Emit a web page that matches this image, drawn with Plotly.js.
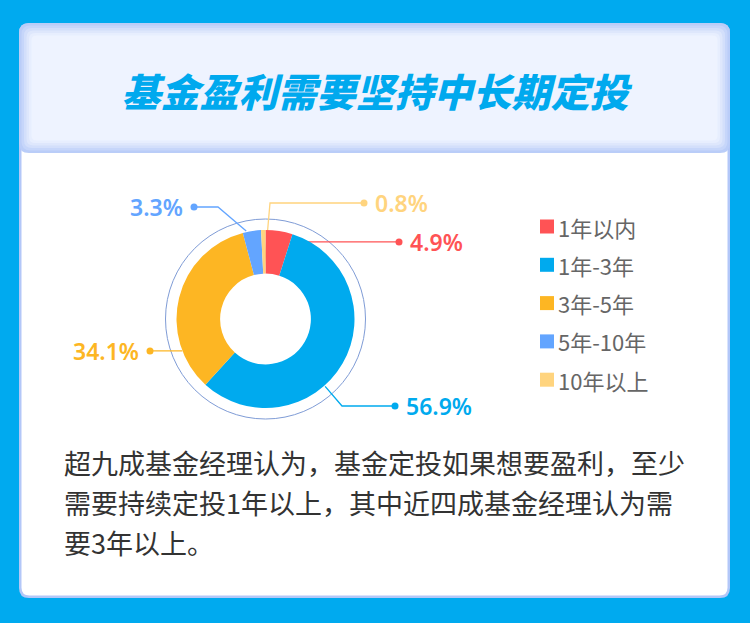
<!DOCTYPE html>
<html>
<head>
<meta charset="utf-8">
<script src="https://cdn.plot.ly/plotly-3.0.1.min.js"></script>
<style>html,body{margin:0;padding:0;background:#00AAEF;}#chart{width:750px;height:623px;}</style>
</head>
<body>
<div id="chart"></div>
<script>
// ---- data ----
const titleText = '基金盈利需要坚持中长期定投';
const categories = ['1年以内', '1年-3年', '3年-5年', '5年-10年', '10年以上'];
const values = [4.9, 56.9, 34.1, 3.3, 0.8];
const colors = ['#FF5355', '#00AAEE', '#FDB623', '#63A5FF', '#FFD47E'];
const paragraphLines = [
  '超九成基金经理认为，基金定投如果想要盈利，至少',
  '需要持续定投1年以上，其中近四成基金经理认为需',
  '要3年以上。'
];

// ---- layout geometry (pixels) ----
const W = 750, H = 623;
const CX = 265.5, CY = 319, R = 89, HOLE = 0.51, RING = 100;
// leader-line styling: where on the slice the line starts, elbow and dot positions
const leaders = [
  {frac: 0.885, r: 80, elbow: null, dotX: 399, side: 'right'},
  {frac: 0.59, r: 90, elbow: [342, 406], dotX: 395, side: 'right'},
  {frac: 0.216, r: 89, elbow: null, dotX: 150, side: 'left'},
  {frac: 0.2, r: 90, elbow: [218, 207], dotX: 194, side: 'left'},
  {frac: 0.5, r: 50, elbow: [270, 203], dotX: 364, side: 'right'}
];
// custom legend placement
const LEG_X = 547, LEG_Y0 = 226.5, LEG_DY = 38.3;

const total = values.reduce((a, b) => a + b, 0);
let cum = 0;
const spans = values.map(v => { const a0 = cum / total * 360; cum += v; return [a0, cum / total * 360]; });
function pt(theta, r) { const t = theta * Math.PI / 180; return [CX + r * Math.sin(t), CY - r * Math.cos(t)]; }

const traces = [];
traces.push({
  type: 'pie', labels: categories, values: values, sort: false, direction: 'clockwise', rotation: 0,
  hole: HOLE, textinfo: 'none', hoverinfo: 'none',
  marker: {colors: colors, line: {width: 0}},
  domain: {x: [(CX - R) / W, (CX + R) / W], y: [(H - CY - R) / H, (H - CY + R) / H]},
  showlegend: false
});

const dotX = [], dotY = [], annotations = [];
spans.forEach((s, i) => {
  const L = leaders[i];
  const a = s[0] + (s[1] - s[0]) * L.frac;
  const p = pt(a, L.r);
  const xs = [p[0]], ys = [p[1]];
  let y = p[1];
  if (L.elbow) { xs.push(L.elbow[0]); ys.push(L.elbow[1]); y = L.elbow[1]; }
  xs.push(L.dotX); ys.push(y);
  traces.push({type: 'scatter', mode: 'lines', x: xs, y: ys, line: {color: colors[i], width: 1.3},
    hoverinfo: 'skip', showlegend: false});
  dotX.push(L.dotX); dotY.push(y);
  annotations.push({
    x: L.side === 'right' ? L.dotX + 9 : L.dotX - 9, y: y, xref: 'x', yref: 'y',
    xanchor: L.side === 'right' ? 'left' : 'right', yanchor: 'middle', showarrow: false,
    text: values[i].toFixed(1) + '%',
    font: {family: 'Noto Sans, sans-serif', size: 23, color: colors[i], weight: 600}
  });
});
traces.push({type: 'scatter', mode: 'markers', x: dotX, y: dotY,
  marker: {color: colors, size: 7}, hoverinfo: 'skip', showlegend: false});

// legend (squares + labels) built from categories and colors
const legX = categories.map(() => LEG_X);
const legY = categories.map((c, i) => LEG_Y0 + i * LEG_DY);
traces.push({type: 'scatter', mode: 'markers', x: legX, y: legY, name: 'legend',
  marker: {symbol: 'square', size: 14, color: colors}, hoverinfo: 'skip', showlegend: false});
categories.forEach((c, i) => {
  annotations.push({x: LEG_X + 9, y: legY[i], xref: 'x', yref: 'y', xanchor: 'left', yanchor: 'middle',
    showarrow: false, text: c, font: {family: 'Noto Sans CJK SC, sans-serif', size: 22, color: '#666666'}});
});

paragraphLines.forEach((t, i) => {
  annotations.push({x: 62, y: 462 + i * 40, xref: 'x', yref: 'y', xanchor: 'left', yanchor: 'middle',
    showarrow: false, text: t, align: 'left',
    font: {family: 'Noto Sans CJK SC, sans-serif', size: 27, color: '#333333'}});
});

function rr(x0, y0, x1, y1, r) {
  return `M${x0 + r},${y0} L${x1 - r},${y0} Q${x1},${y0} ${x1},${y0 + r} L${x1},${y1 - r} Q${x1},${y1} ${x1 - r},${y1} ` +
         `L${x0 + r},${y1} Q${x0},${y1} ${x0},${y1 - r} L${x0},${y0 + r} Q${x0},${y0} ${x0 + r},${y0} Z`;
}
const shapes = [];
function addRR(x0, y0, x1, y1, r, fill) {
  shapes.push({type: 'path', xref: 'x', yref: 'y', path: rr(x0, y0, x1, y1, r), fillcolor: fill,
    line: {width: 0}, layer: 'below'});
}
addRR(19, 23, 730, 598, 10, '#B3C7F8');
addRR(21.5, 130, 727.5, 595.5, 8, '#FFFFFF');
const glow = ['#BACDF8', '#C6D6FA', '#D3DFFB', '#DEE7FC', '#E7EEFE', '#EEF3FF'];
glow.forEach((c, k) => addRR(19 + k * 2.5, 23 + k * 2.5, 730 - k * 2.5, 153 - k * 2.5, Math.max(10 - k, 4), c));
shapes.push({type: 'circle', xref: 'x', yref: 'y', x0: CX - RING, x1: CX + RING, y0: CY - RING, y1: CY + RING,
  line: {color: '#7F9CD6', width: 1}, layer: 'below'});

const layout = {
  width: W, height: H, margin: {l: 0, r: 0, t: 0, b: 0},
  paper_bgcolor: '#00AAEF', plot_bgcolor: 'rgba(0,0,0,0)',
  title: {text: titleText, x: 0.5, xanchor: 'center', y: 1 - 93 / H, yanchor: 'middle',
    font: {family: 'Noto Sans CJK SC, sans-serif', size: 39, color: '#00A9EE', weight: 900, style: 'italic'}},
  xaxis: {range: [0, W], visible: false, fixedrange: true},
  yaxis: {range: [H, 0], visible: false, fixedrange: true},
  showlegend: false,
  shapes: shapes, annotations: annotations, hovermode: false
};
Plotly.newPlot('chart', traces, layout, {displayModeBar: false, staticPlot: true});
</script>
</body>
</html>
